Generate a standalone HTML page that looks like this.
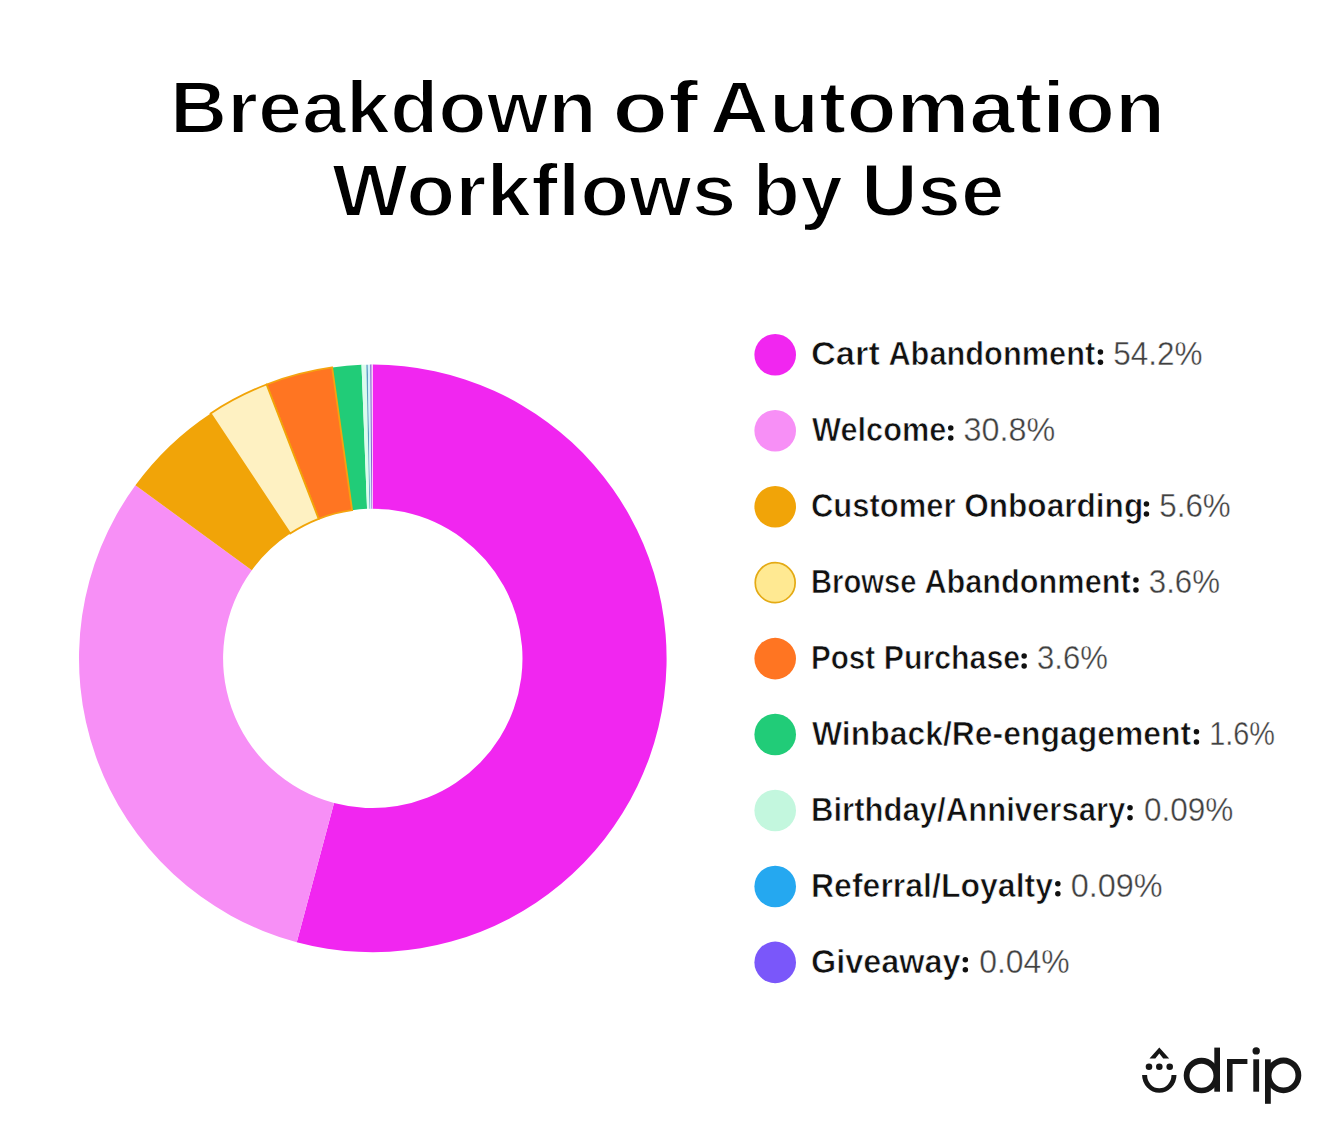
<!DOCTYPE html>
<html><head><meta charset="utf-8"><style>
html,body{margin:0;padding:0;background:#fff;width:1334px;height:1136px;overflow:hidden}
svg{display:block}
.t{font-family:"Liberation Sans",sans-serif;font-weight:bold;font-size:74.5px;fill:#000;stroke:#fff;stroke-width:2px;stroke-linejoin:round}
.lb{font-family:"Liberation Sans",sans-serif;font-weight:bold;font-size:33px;fill:#111;stroke:#fff;stroke-width:0.7px;stroke-linejoin:round}
.pc{font-family:"Liberation Sans",sans-serif;font-weight:normal;font-size:33px;fill:#404040;stroke:#fff;stroke-width:0.4px;stroke-linejoin:round}
</style></head><body>
<svg width="1334" height="1136" viewBox="0 0 1334 1136">
<rect width="1334" height="1136" fill="#fff"/>
<text x="170.00" y="132.80" class="t" textLength="426.60" lengthAdjust="spacingAndGlyphs">Breakdown</text>
<text x="612.20" y="132.80" class="t" textLength="86.40" lengthAdjust="spacingAndGlyphs">of</text>
<text x="709.80" y="132.80" class="t" textLength="455.40" lengthAdjust="spacingAndGlyphs">Automation</text>
<text x="332.00" y="216.30" class="t" textLength="404.40" lengthAdjust="spacingAndGlyphs">Workflows</text>
<text x="752.80" y="216.30" class="t" textLength="90.00" lengthAdjust="spacingAndGlyphs">by</text>
<text x="861.20" y="216.30" class="t" textLength="143.20" lengthAdjust="spacingAndGlyphs">Use</text>
<path d="M372.80 364.60A293.8 293.8 0 1 1 296.76 942.19L334.05 803.00A149.7 149.7 0 1 0 372.80 508.70Z" fill="#F126F0"/>
<path d="M296.76 942.19A293.8 293.8 0 0 1 135.41 485.29L251.84 570.20A149.7 149.7 0 0 0 334.05 803.00Z" fill="#F78FF6"/>
<path d="M135.41 485.29A293.8 293.8 0 0 1 210.64 413.40L290.18 533.57A149.7 149.7 0 0 0 251.84 570.20Z" fill="#F1A408"/>
<path d="M332.16 367.42A293.8 293.8 0 0 1 361.52 364.82L367.05 508.81A149.7 149.7 0 0 0 352.10 510.14Z" fill="#21CC78"/>
<path d="M266.55 384.48A293.8 293.8 0 0 1 332.16 367.42L352.10 510.14A149.7 149.7 0 0 0 318.66 518.83Z" fill="#FF7522" stroke="#F5A30F" stroke-width="1.8"/>
<path d="M210.64 413.40A293.8 293.8 0 0 1 266.55 384.48L318.66 518.83A149.7 149.7 0 0 0 290.18 533.57Z" fill="#FEF1C2" stroke="#F1A408" stroke-width="1.8"/>
<path d="M361.52 364.82A293.8 293.8 0 0 1 366.34 364.67L369.51 508.74A149.7 149.7 0 0 0 367.05 508.81Z" fill="#DCFCEE"/>
<path d="M366.34 364.67A293.8 293.8 0 0 1 367.83 364.64L370.27 508.72A149.7 149.7 0 0 0 369.51 508.74Z" fill="#5B9FC5"/>
<path d="M367.83 364.64A293.8 293.8 0 0 1 370.18 364.61L371.47 508.71A149.7 149.7 0 0 0 370.27 508.72Z" fill="#D4F1FB"/>
<path d="M370.18 364.61A293.8 293.8 0 0 1 371.62 364.60L372.20 508.70A149.7 149.7 0 0 0 371.47 508.71Z" fill="#8860D0"/>
<path d="M371.62 364.60A293.8 293.8 0 0 1 372.80 364.60L372.80 508.70A149.7 149.7 0 0 0 372.20 508.70Z" fill="#FBC8F8"/>
<circle cx="775.2" cy="354.80" r="20.8" fill="#F126F0"/>
<text x="811.00" y="364.90" class="lb" textLength="68.90" lengthAdjust="spacingAndGlyphs">Cart</text>
<text x="888.40" y="364.90" class="lb" textLength="206.80" lengthAdjust="spacingAndGlyphs">Abandonment</text>
<circle cx="1100.45" cy="352.10" r="2.75" fill="#111"/><circle cx="1100.45" cy="362.15" r="2.75" fill="#111"/>
<text x="1113.30" y="364.90" class="pc" textLength="89.20" lengthAdjust="spacingAndGlyphs">54.2%</text>
<circle cx="775.2" cy="430.75" r="20.8" fill="#F78FF6"/>
<text x="812.00" y="440.85" class="lb" textLength="134.30" lengthAdjust="spacingAndGlyphs">Welcome</text>
<circle cx="950.75" cy="428.05" r="2.75" fill="#111"/><circle cx="950.75" cy="438.10" r="2.75" fill="#111"/>
<text x="963.60" y="440.85" class="pc" textLength="91.60" lengthAdjust="spacingAndGlyphs">30.8%</text>
<circle cx="775.2" cy="506.70" r="20.8" fill="#F1A408"/>
<text x="811.00" y="516.80" class="lb" textLength="144.60" lengthAdjust="spacingAndGlyphs">Customer</text>
<text x="964.20" y="516.80" class="lb" textLength="179.00" lengthAdjust="spacingAndGlyphs">Onboarding</text>
<circle cx="1146.45" cy="504.00" r="2.75" fill="#111"/><circle cx="1146.45" cy="514.05" r="2.75" fill="#111"/>
<text x="1159.30" y="516.80" class="pc" textLength="71.40" lengthAdjust="spacingAndGlyphs">5.6%</text>
<circle cx="775.2" cy="582.65" r="19.95" fill="#FFE992" stroke="#E4AA14" stroke-width="1.7"/>
<text x="811.00" y="592.75" class="lb" textLength="105.50" lengthAdjust="spacingAndGlyphs">Browse</text>
<text x="924.40" y="592.75" class="lb" textLength="206.30" lengthAdjust="spacingAndGlyphs">Abandonment</text>
<circle cx="1135.95" cy="579.95" r="2.75" fill="#111"/><circle cx="1135.95" cy="590.00" r="2.75" fill="#111"/>
<text x="1148.80" y="592.75" class="pc" textLength="71.20" lengthAdjust="spacingAndGlyphs">3.6%</text>
<circle cx="775.2" cy="658.60" r="20.8" fill="#FF7522"/>
<text x="811.00" y="668.70" class="lb" textLength="64.20" lengthAdjust="spacingAndGlyphs">Post</text>
<text x="883.80" y="668.70" class="lb" textLength="136.30" lengthAdjust="spacingAndGlyphs">Purchase</text>
<circle cx="1024.15" cy="655.90" r="2.75" fill="#111"/><circle cx="1024.15" cy="665.95" r="2.75" fill="#111"/>
<text x="1037.00" y="668.70" class="pc" textLength="70.80" lengthAdjust="spacingAndGlyphs">3.6%</text>
<circle cx="775.2" cy="734.55" r="20.8" fill="#21CC78"/>
<text x="812.00" y="744.65" class="lb" textLength="379.20" lengthAdjust="spacingAndGlyphs">Winback/Re-engagement</text>
<circle cx="1196.45" cy="731.85" r="2.75" fill="#111"/><circle cx="1196.45" cy="741.90" r="2.75" fill="#111"/>
<text x="1209.30" y="744.65" class="pc" textLength="65.70" lengthAdjust="spacingAndGlyphs">1.6%</text>
<circle cx="775.2" cy="810.50" r="20.8" fill="#C3F7DE"/>
<text x="811.00" y="820.60" class="lb" textLength="314.40" lengthAdjust="spacingAndGlyphs">Birthday/Anniversary</text>
<circle cx="1130.05" cy="807.80" r="2.75" fill="#111"/><circle cx="1130.05" cy="817.85" r="2.75" fill="#111"/>
<text x="1143.90" y="820.60" class="pc" textLength="89.40" lengthAdjust="spacingAndGlyphs">0.09%</text>
<circle cx="775.2" cy="886.45" r="20.8" fill="#25A8F0"/>
<text x="811.00" y="896.55" class="lb" textLength="242.00" lengthAdjust="spacingAndGlyphs">Referral/Loyalty</text>
<circle cx="1057.85" cy="883.75" r="2.75" fill="#111"/><circle cx="1057.85" cy="893.80" r="2.75" fill="#111"/>
<text x="1070.70" y="896.55" class="pc" textLength="91.80" lengthAdjust="spacingAndGlyphs">0.09%</text>
<circle cx="775.2" cy="962.40" r="20.8" fill="#7A57FA"/>
<text x="811.00" y="972.50" class="lb" textLength="149.50" lengthAdjust="spacingAndGlyphs">Giveaway</text>
<circle cx="965.35" cy="959.70" r="2.75" fill="#111"/><circle cx="965.35" cy="969.75" r="2.75" fill="#111"/>
<text x="979.20" y="972.50" class="pc" textLength="90.50" lengthAdjust="spacingAndGlyphs">0.04%</text>
<g fill="#161616">
<path d="M1149.5 1058.6L1159.3 1047.4L1169.2 1058.6L1163.2 1058.6L1159.3 1053.6L1155.3 1058.6Z"/>
<circle cx="1149" cy="1066.8" r="3.3"/><circle cx="1159.3" cy="1066.8" r="3.3"/><circle cx="1169.7" cy="1066.8" r="3.3"/>
<path d="M1142.1 1075.1L1147.1 1075.1A12.2 13.2 0 0 0 1171.5 1075.1L1176.5 1075.1A17.2 17.7 0 0 1 1142.1 1075.1Z"/>
<path fill-rule="evenodd" d="M1201.5 1057.7A17.8 17.8 0 1 0 1201.5 1093.3A17.8 17.8 0 1 0 1201.5 1057.7ZM1201.5 1063.7A12 12 0 1 1 1201.5 1087.7A12 12 0 1 1 1201.5 1063.7Z"/>
<rect x="1214.3" y="1047.6" width="5.7" height="44.1"/>
<path d="M1227 1059H1247.4V1063.9H1232.6V1091.7H1227Z"/>
<circle cx="1256.2" cy="1050.9" r="3.7"/>
<rect x="1253.3" y="1059.3" width="5.8" height="32.4"/>
<path fill-rule="evenodd" d="M1283.5 1057.6A17.8 17.8 0 1 0 1283.5 1093.2A17.8 17.8 0 1 0 1283.5 1057.6ZM1283.5 1063.6A12 12 0 1 1 1283.5 1087.6A12 12 0 1 1 1283.5 1063.6Z"/>
<rect x="1265" y="1059.3" width="5.8" height="44.5"/>
</g>

</svg>
</body></html>
